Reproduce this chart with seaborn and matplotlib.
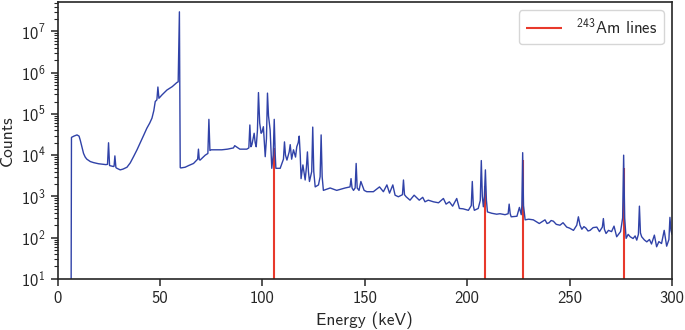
import pandas as pd
import matplotlib
matplotlib.use("Agg")
import matplotlib.pyplot as plt
import matplotlib.ticker as mticker
import seaborn as sns

# spectrum in four stretches (energy in keV, counts)
energy_low = [6.6, 6.8, 8.0, 9.5, 10.5, 11.1, 12.0, 12.7, 13.5, 14.3, 16.0, 17.6, 20.0, 23.6, 24.4,
              24.9, 25.4, 26.0, 27.3, 27.6, 28.0, 28.5, 29.0, 30.6, 32.0, 33.9, 35.5, 37.1, 38.8,
              40.4, 42.0, 43.6, 45.0, 46.1, 47.0, 47.7, 48.5, 49.0, 49.5, 51.0, 53.4, 56.0, 58.3,
              58.9, 59.5, 59.9, 60.2]
counts_low = [1, 2.7e4, 2.9e4, 3.1e4, 2.9e4, 2.3e4, 1.5e4, 1.1e4, 9e3, 8e3, 7e3, 6.6e3, 6.2e3, 5.9e3,
              6.0e3, 2.0e4, 5.6e3, 5.5e3, 5.3e3, 5.4e3, 9.6e3, 5.0e3, 4.8e3, 4.4e3, 4.6e3, 5.1e3,
              6.5e3, 9.2e3, 1.35e4, 2.0e4, 3.0e4, 4.5e4, 6.0e4, 7.9e4, 1.2e5, 2.0e5, 2.2e5, 4.5e5,
              2.4e5, 2.9e5, 3.8e5, 4.6e5, 5.8e5, 6.0e5, 3.0e7, 5.0e3, 4.9e3]

energy_mid = [62.3, 64.0, 66.4, 68.4, 68.8, 69.2, 69.6, 72.1, 73.4, 73.9, 74.4, 75.0, 80.2, 83.0,
              85.9, 86.5, 89.0, 92.4, 93.4, 93.9, 94.4, 94.9, 96.0, 96.5, 97.0, 97.6, 98.1, 98.7,
              99.4, 99.8, 100.5, 101.4, 102.0, 102.5, 103.0, 103.8, 104.6, 105.3, 105.8, 106.3,
              106.6, 108.7, 110.3, 110.8, 111.3, 112.0, 113.1, 113.6, 114.3, 115.2, 116.2, 116.8,
              117.5, 118.0, 118.5, 118.9, 119.8, 120.9, 121.5, 122.0, 122.5, 123.0, 124.1, 124.6,
              125.1, 125.8, 127.4, 128.2, 128.7, 129.2, 129.8]
counts_mid = [5.1e3, 5.6e3, 6.3e3, 8.0e3, 1.4e4, 7.8e3, 7.6e3, 1.0e4, 1.1e4, 7.4e4, 1.3e4, 1.35e4,
              1.35e4, 1.4e4, 1.5e4, 1.7e4, 1.4e4, 1.4e4, 1.5e4, 5.4e4, 1.6e4, 1.8e4, 3.4e4, 2.0e4,
              1.6e4, 4.0e4, 3.3e5, 6.0e4, 3.4e4, 3.6e4, 4.9e4, 9.2e3, 2.5e4, 3.2e5, 9.0e4, 4.1e4,
              4.8e3, 1.0e4, 7.4e4, 1.0e4, 4.8e3, 4.8e3, 8.0e3, 2.1e4, 1.0e4, 7.6e3, 1.2e4, 1.8e4,
              8.0e3, 1.35e4, 9.0e3, 1.6e4, 2.0e4, 2.9e4, 1.0e4, 2.7e3, 5.8e3, 2.5e3, 5.0e3, 1.2e4,
              4.0e3, 2.3e3, 4.0e3, 4.8e4, 4.0e3, 1.7e3, 1.9e3, 3.0e3, 3.1e4, 3.0e3, 1.4e3]

energy_high = [133.1, 136.3, 140.4, 142.8, 143.3, 143.8, 144.5, 145.3, 145.8, 146.3, 147.2, 148.1,
               149.7, 151.0, 154.2, 157.2, 159.1, 160.8, 162.1, 163.7, 164.8, 166.4, 168.4, 168.9,
               169.4, 170.2, 172.1, 174.1, 176.6, 178.3, 179.4, 181.0, 183.5, 186.0, 188.4, 189.7,
               191.3, 192.9, 194.9, 196.2, 198.0, 200.6, 202.0, 202.5, 203.0, 203.5, 205.4, 206.4,
               206.9, 207.4, 207.9, 208.4, 208.9, 209.4, 209.9, 212.0, 214.4, 216.0, 218.5, 220.0,
               220.5, 221.0, 221.5, 224.3, 225.5, 226.4, 226.7, 227.1, 227.5, 228.3, 230.0, 232.3,
               235.2]
counts_high = [1.6e3, 1.4e3, 1.6e3, 1.7e3, 2.7e3, 1.6e3, 1.4e3, 1.6e3, 6.3e3, 1.6e3, 1.4e3, 2.3e3,
               1.4e3, 1.3e3, 1.3e3, 1.7e3, 1.3e3, 1.9e3, 1.2e3, 1.9e3, 1.07e3, 980, 1.1e3, 2.5e3,
               1.1e3, 980, 810, 1.07e3, 810, 950, 740, 810, 740, 700, 890, 650, 740, 580, 890, 510,
               500, 460, 600, 2.3e3, 600, 460, 510, 800, 7.4e3, 1.0e3, 560, 1.0e3, 4.4e3, 800, 420,
               390, 370, 380, 360, 380, 650, 380, 320, 330, 540, 360, 600, 1.15e4, 600, 270, 280,
               270, 220]

energy_tail = [237.0, 238.0, 239.0, 240.0, 241.0, 242.1, 243.5, 245.3, 246.8, 248.6, 250.0, 251.9,
               253.5, 254.3, 255.1, 256.0, 257.0, 258.0, 259.0, 260.0, 261.5, 263.3, 264.6, 266.0,
               266.5, 267.0, 267.8, 269.0, 270.5, 271.7, 273.0, 274.9, 275.9, 276.4, 276.9, 277.6,
               278.6, 279.6, 281.0, 282.0, 282.8, 283.6, 284.1, 284.6, 285.2, 286.5, 287.7, 289.0,
               290.0, 291.4, 292.5, 293.6, 294.9, 296.2, 297.4, 298.5, 299.0, 299.5, 300.0]
counts_tail = [250, 270, 220, 230, 260, 250, 210, 200, 230, 180, 170, 150, 200, 320, 200, 160, 185,
               170, 145, 150, 175, 180, 140, 180, 290, 160, 126, 150, 140, 190, 105, 140, 300, 1.0e4,
               300, 96, 120, 105, 95, 110, 87, 120, 580, 130, 105, 88, 79, 90, 70, 115, 60, 80, 72,
               150, 62, 90, 310, 150, 120]

# 243Am lines: position (keV) and drawn height (counts)
am_line_energy = [105.7, 208.9, 227.2, 276.5]
am_line_height = [1.5e4, 1.8e3, 7.5e3, 4.8e3]

spec = pd.DataFrame({
    "energy": energy_low + energy_mid + energy_high + energy_tail,
    "counts": counts_low + counts_mid + counts_high + counts_tail,
})

sns.set_style("ticks")
plt.rcParams["font.family"] = ["cmss10", "DejaVu Sans"]
plt.rcParams["mathtext.fontset"] = "custom"
plt.rcParams["mathtext.rm"] = "cmss10"
plt.rcParams["mathtext.it"] = "cmss10"
plt.rcParams["mathtext.bf"] = "cmss10"
plt.rcParams["axes.unicode_minus"] = False

fig = plt.figure(figsize=(6.85, 3.3), dpi=100)
ax = fig.add_axes([0.084, 0.155, 0.897, 0.839])

sns.lineplot(data=spec, x="energy", y="counts", estimator=None, color="#3042a8",
             linewidth=1.0, ax=ax)
ax.vlines(am_line_energy, 1, am_line_height, color="#e8392b", linewidth=1.5,
          label=r"$^{243}$Am lines", zorder=1)

ax.set_yscale("log")
ax.set_xlim(0, 300)
ax.set_ylim(10, 5.2e7)
ax.set_xticks([0, 50, 100, 150, 200, 250, 300])
ax.yaxis.set_major_locator(mticker.LogLocator(base=10, numticks=20))
ax.yaxis.set_minor_locator(mticker.LogLocator(base=10, subs=range(2, 10), numticks=100))
ax.yaxis.set_minor_formatter(mticker.NullFormatter())
ax.tick_params(axis="both", labelsize=12, length=5, width=1.1)
ax.tick_params(axis="y", which="minor", length=3, width=0.8)
ax.set_xlabel("Energy (keV)", fontsize=12.5)
ax.set_ylabel("Counts", fontsize=12.5)
for s in ax.spines.values():
    s.set_linewidth(1.2)

ax.legend(loc="upper right", fontsize=12, handlelength=2.2)

fig.savefig("out.png", dpi=100)
